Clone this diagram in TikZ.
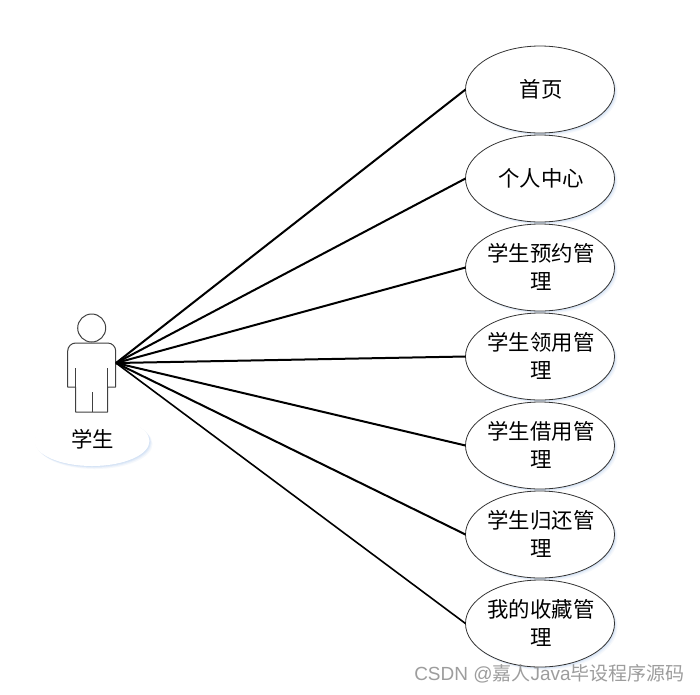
\documentclass[tikz,border=0pt]{standalone}
\usepackage{fontspec}
\setmainfont{Noto Sans CJK SC}
\newfontfamily\wmfont{Liberation Sans}
\newfontfamily\wmcjk{Noto Sans CJK SC}
\usetikzlibrary{shapes.geometric,shadows}
\definecolor{shadowblue}{RGB}{120,165,225}
\newcommand\ucline[1]{\hspace*{2pt}#1}
\newcommand\uclast[1]{\hspace*{2pt}#1\rule[-2pt]{0pt}{2pt}}
\tikzset{
  x=1pt,y=-1pt,
  softshadow/.style={
    general shadow={fill=shadowblue,opacity=.08,shadow xshift=0.6pt,shadow yshift=-0.6pt},
    general shadow={fill=shadowblue,opacity=.10,shadow xshift=1.2pt,shadow yshift=-1.2pt},
    general shadow={fill=shadowblue,opacity=.10,shadow xshift=2pt,shadow yshift=-2pt},
    general shadow={fill=shadowblue,opacity=.07,shadow xshift=3pt,shadow yshift=-3pt}},
  usecase/.style={ellipse,draw=black!80,line width=0.8pt,fill=white,minimum width=149pt,minimum height=87pt,
    inner sep=0pt,inner xsep=-6pt,outer sep=0pt,align=center,softshadow,
    font=\fontsize{21.4}{28}\selectfont},
  link/.style={draw=black,line width=2pt},
  linkthin/.style={draw=black,line width=1.6pt},
  actorline/.style={draw=black!75,line width=1pt,line join=round},
  actorlabel/.style={ellipse,fill=white,draw=none,minimum width=115pt,minimum height=50pt,inner sep=0pt,softshadow},
  wm/.style={text=black!45,font=\fontsize{19}{22}\selectfont,inner sep=0pt,opacity=.85},
}
\begin{document}
\begin{tikzpicture}
\useasboundingbox (0,0) rectangle (700,694);
\fill[white] (0,0) rectangle (700,694);
% actor
\node[actorlabel] (labelbg) at (92,441) {};
\fill[white] (20,385) rectangle (170,426);
\node[inner sep=0pt,font=\fontsize{21.4}{26}\selectfont] (actorname) at (92.5,439) {学生};
\node[circle,draw=black!75,line width=1pt,fill=white,minimum size=28pt,inner sep=0pt,outer sep=0pt] (head) at (91.7,328) {};
\filldraw[actorline,fill=white,rounded corners=8pt]
  (75.7,387) [sharp corners] -- (67.7,387) [rounded corners=8pt] -- (67.7,343) -- (115.7,343) [sharp corners] -- (115.7,387) -- (107.7,387) -- (107.7,412) -- (75.7,412) -- cycle;
\draw[actorline] (75.7,368) -- (75.7,387) (107.7,368) -- (107.7,387) (92,392) -- (92,412);
\coordinate (actor) at (116,363);
% use cases
\node[usecase] (u1) at (540,89.5) {\ucline{首页}};
\node[usecase] (u2) at (540,178.5) {\ucline{个人中心}};
\node[usecase] (u3) at (540,267.5) {\ucline{学生预约管}\\\uclast{理}};
\node[usecase] (u4) at (540,356.5) {\ucline{学生领用管}\\\uclast{理}};
\node[usecase] (u5) at (540,445.5) {\ucline{学生借用管}\\\uclast{理}};
\node[usecase] (u6) at (540,534.5) {\ucline{学生归还管}\\\uclast{理}};
\node[usecase] (u7) at (540,623.5) {\ucline{我的收藏管}\\\uclast{理}};
% connectors
\draw[link] (actor) -- (u1.west);
\draw[link] (actor) -- (u2.west);
\draw[link] (actor) -- (u3.west);
\draw[link] (actor) -- (u4.west);
\draw[link] (actor) -- (u5.west);
\draw[link] (actor) -- (u6.west);
\draw[linkthin] (actor) -- (u7.west);
% watermark
\node[wm,anchor=east] (watermark) at (685,674) {{\wmfont CSDN @}{\wmcjk 嘉人}{\wmfont Java}{\wmcjk 毕设程序源码}};
\end{tikzpicture}
\end{document}
